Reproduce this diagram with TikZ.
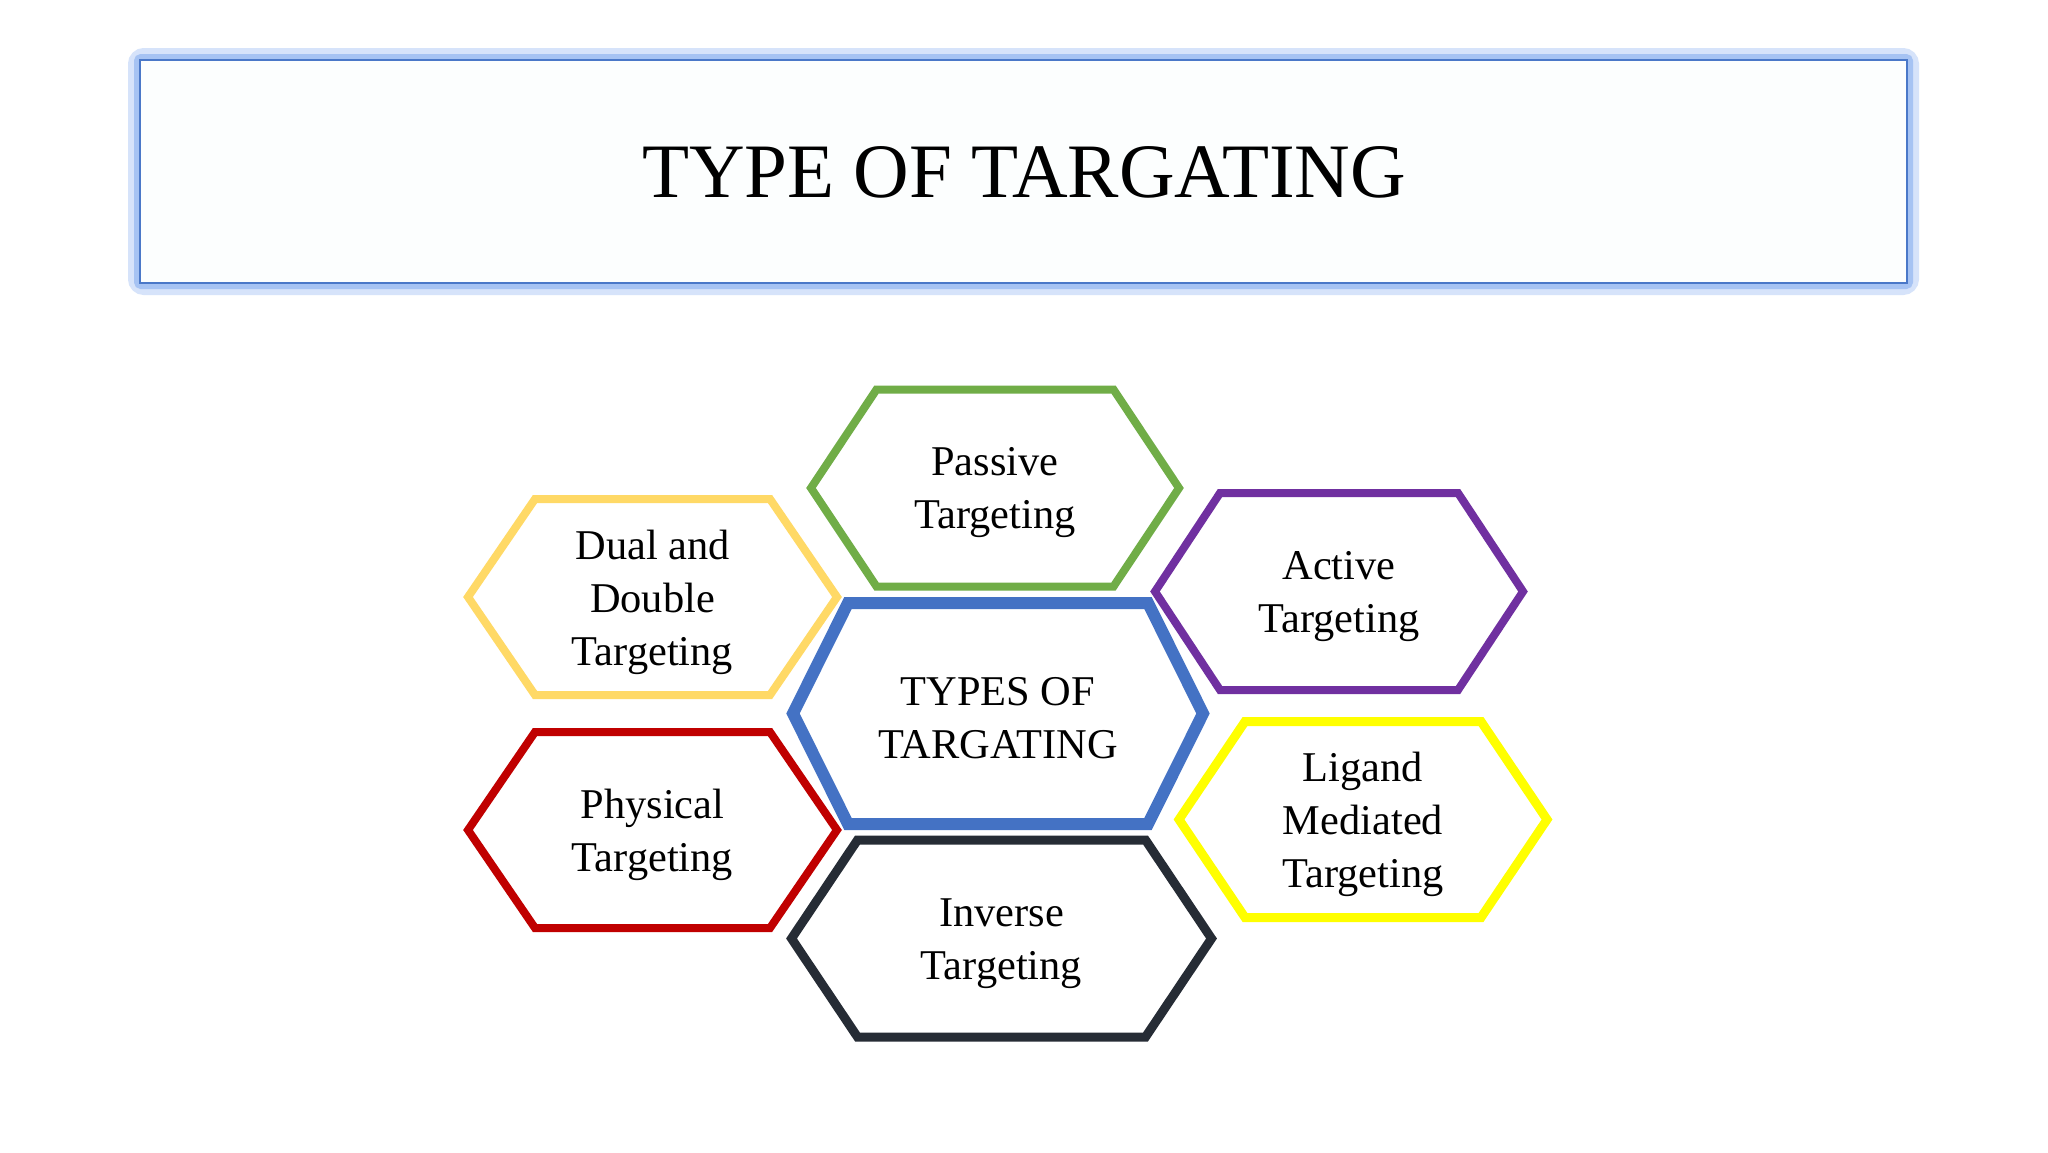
\documentclass[tikz,border=0pt]{standalone}
\usepackage{fontspec}
\setmainfont{Liberation Serif}
\definecolor{hgreen}{HTML}{70AD47}
\definecolor{hblue}{HTML}{4472C4}
\definecolor{hgold}{HTML}{FFD966}
\definecolor{hred}{HTML}{C00000}
\definecolor{hpurple}{HTML}{7030A0}
\definecolor{hyellow}{HTML}{FFFF00}
\definecolor{hdark}{HTML}{262C35}
\definecolor{glowA}{HTML}{D6E3FA}
\definecolor{glowB}{HTML}{A6C3F3}
\definecolor{boxborder}{HTML}{4A78C8}
\definecolor{boxfill}{HTML}{FCFEFE}
\tikzset{
  hextext/.style={align=center, text=black, inner sep=0pt, yshift=-2.5pt,
    font=\fontsize{21.2}{26.5}\selectfont},
  hexline/.style={line join=miter},
  titletext/.style={text=black, inner sep=0pt, font=\fontsize{38.5}{46}\selectfont}
}
% name, cx, cy, half-width, half-height, slant, colour, line width (pt), text
\newcommand\hexa[9]{%
  \draw[hexline, draw=#7, line width=#8]
    (#2-#4,#3) -- (#2-#4+#6,#3-#5) -- (#2+#4-#6,#3-#5) -- (#2+#4,#3)
    -- (#2+#4-#6,#3+#5) -- (#2-#4+#6,#3+#5) -- cycle;
  \node[hextext] (#1) at (#2,#3) {#9};}
\begin{document}
\begin{tikzpicture}[x=0.5pt,y=-0.5pt]
\useasboundingbox[fill=white] (0,0) rectangle (2048,1152);
% title box with glow
\draw[glowA, line width=6pt, rounded corners=5pt] (134,54) rectangle (1913,289);
\draw[glowB, line width=3pt, rounded corners=2pt] (137,57) rectangle (1910,286);
\draw[boxborder, fill=boxfill, line width=1.4pt] (140,60) rectangle (1907,283);
\node[titletext] (title) at (1024,172) {TYPE OF TARGATING};
% hexagons
\hexa{passive}{995}{488}{184}{98.5}{65.5}{hgreen}{4pt}{Passive\\Targeting}
\hexa{dual}{652.5}{597}{184.5}{98}{67}{hgold}{4pt}{Dual and\\Double\\Targeting}
\hexa{physical}{652.5}{830}{184.5}{98}{67}{hred}{4pt}{Physical\\Targeting}
\hexa{active}{1339}{591.5}{184}{98.5}{65}{hpurple}{4pt}{Active\\Targeting}
\hexa{ligand}{1363}{819.5}{184}{98}{66}{hyellow}{4.5pt}{Ligand\\Mediated\\Targeting}
\hexa{inverse}{1001.5}{938.5}{210}{98.5}{66}{hdark}{4.5pt}{Inverse\\Targeting}
\hexa{types}{998}{713.5}{205}{110.5}{55}{hblue}{6pt}{TYPES OF\\TARGATING}
\end{tikzpicture}
\end{document}
